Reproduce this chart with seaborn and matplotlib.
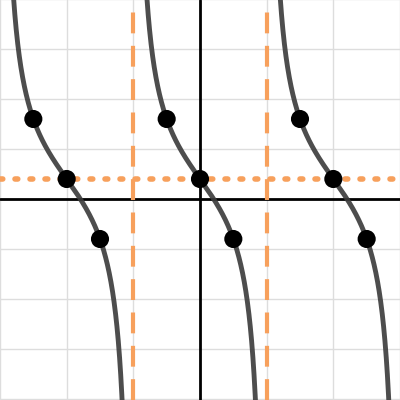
import numpy as np
import pandas as pd
import seaborn as sns
import matplotlib.pyplot as plt

# y = -1.2 * tan(pi x / 2) + 0.4
amp = 1.2
shift = 0.4
asymptotes = [-1, 1]
branch_starts = [-3, -1, 1]
point_x = [-2.5, -2, -1.5, -0.5, 0, 0.5, 1.5, 2, 2.5]
point_y = [1.6, 0.4, -0.8, 1.6, 0.4, -0.8, 1.6, 0.4, -0.8]

sns.set_style("white")
fig = plt.figure(figsize=(4, 4), dpi=100)
ax = fig.add_axes([0, 0, 1, 1])

for v in np.arange(-3, 4, 1):
    ax.axvline(v, color="#dddddd", lw=1, zorder=0)
for h in np.arange(-4, 5, 1):
    ax.axhline(h, color="#dddddd", lw=1, zorder=0)
ax.axhline(0, color="black", lw=2, zorder=1)
ax.axvline(0, color="black", lw=2, zorder=1)

for a in asymptotes:
    ax.axvline(a, color="#f7a05c", lw=3, ls=(0, (5, 3)), zorder=2)
ax.axhline(shift, color="#f7a05c", lw=4, ls=(0, (0.5, 2.2)), dash_capstyle="round", zorder=2)

for s in branch_starts:
    xs = np.linspace(s + 0.003, s + 1.997, 600)
    df = pd.DataFrame({"x": xs, "y": -amp * np.tan(np.pi * xs / 2) + shift})
    sns.lineplot(data=df, x="x", y="y", ax=ax, color="#3a3a3a", alpha=0.9, lw=3.5, sort=False, zorder=3)

sns.scatterplot(x=point_x, y=point_y, ax=ax, color="black", s=170, edgecolor="none", zorder=4)

ax.set_xlim(-3, 3)
ax.set_ylim(-4.02, 3.98)
ax.set_xticks([])
ax.set_yticks([])
ax.set_xlabel("")
ax.set_ylabel("")
for sp in ax.spines.values():
    sp.set_visible(False)

fig.savefig("out.png", dpi=100)
